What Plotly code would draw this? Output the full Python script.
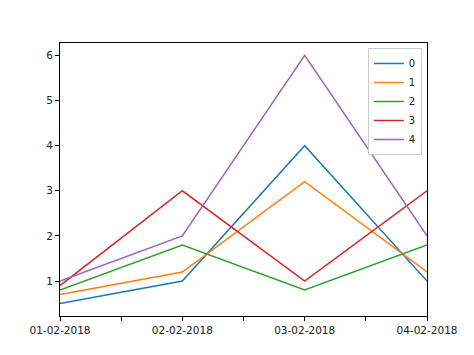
import plotly.graph_objects as go

dates = ["01-02-2018", "02-02-2018", "03-02-2018", "04-02-2018"]
series_names = ["0", "1", "2", "3", "4"]
s0 = [0.5, 1.0, 4.0, 1.0]
s1 = [0.7, 1.2, 3.2, 1.2]
s2 = [0.8, 1.8, 0.8, 1.8]
s3 = [0.9, 3.0, 1.0, 3.0]
s4 = [1.0, 2.0, 6.0, 2.0]
colors = ["#1f77b4", "#ff7f0e", "#2ca02c", "#d62728", "#9467bd"]
y_ticks = [1, 2, 3, 4, 5, 6]

x_pos = list(range(len(dates)))
fig = go.Figure()
for name, vals, c in zip(series_names, [s0, s1, s2, s3, s4], colors):
    fig.add_trace(go.Scatter(x=x_pos, y=vals, mode="lines", name=name,
                             line=dict(color=c, width=1.5)))

tickvals = []
ticktext = []
for i, d in enumerate(dates):
    tickvals.append(i)
    ticktext.append(d)
    if i < len(dates) - 1:
        tickvals.append(i + 0.5)
        ticktext.append("")

axis_common = dict(showline=True, mirror=True, linecolor="black", linewidth=1,
                   ticks="outside", ticklen=4, tickcolor="black", tickwidth=1,
                   showgrid=False, zeroline=False,
                   tickfont=dict(family="DejaVu Sans", size=10.5, color="#222"))

fig.update_layout(
    width=474, height=355,
    margin=dict(l=60, r=47, t=43, b=39, autoexpand=False),
    paper_bgcolor="white", plot_bgcolor="white",
    xaxis=dict(range=[0, 3], tickmode="array", tickvals=tickvals, ticktext=ticktext,
               **axis_common),
    yaxis=dict(range=[0.225, 6.275], tickmode="array", tickvals=y_ticks, **axis_common),
    legend=dict(x=0.986, y=0.982, xanchor="right", yanchor="top",
                bgcolor="white", bordercolor="#cccccc", borderwidth=1,
                font=dict(family="DejaVu Sans", size=10, color="#222"),
                tracegroupgap=0, itemwidth=30),
    showlegend=True,
)
fig.write_html("out.html", config={"displayModeBar": False},
               post_script="document.body.style.margin='0';document.body.style.overflow='hidden';")
